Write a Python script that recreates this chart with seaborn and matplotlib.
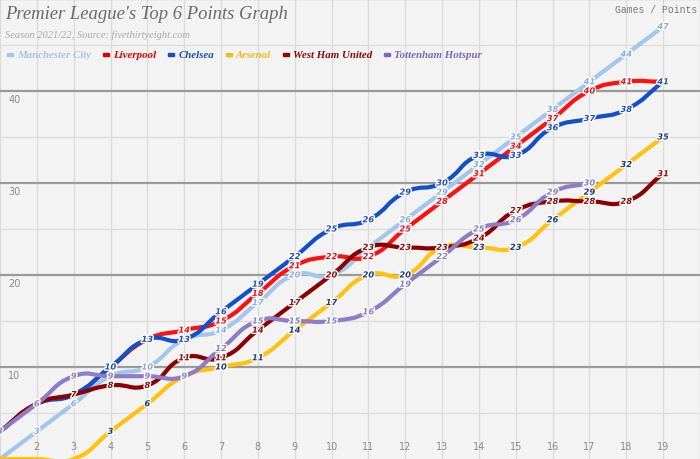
import numpy as np
import pandas as pd
import matplotlib
matplotlib.use("Agg")
import matplotlib.pyplot as plt
import seaborn as sns
from matplotlib.path import Path
from matplotlib.patches import PathPatch, Rectangle
import matplotlib.patheffects as pe
from matplotlib.transforms import ScaledTranslation

# ---------------- data ----------------
games = list(range(1, 20))
teams = ["Manchester City", "Liverpool", "Chelsea", "Arsenal",
         "West Ham United", "Tottenham Hotspur"]
man_city = [0, 3, 6, 9, 10, 13, 14, 17, 20, 20, 23, 26, 29, 32, 35, 38, 41, 44, 47]
liverpool = [3, 6, 7, 10, 13, 14, 15, 18, 21, 22, 22, 25, 28, 31, 34, 37, 40, 41, 41]
chelsea = [3, 6, 7, 10, 13, 13, 16, 19, 22, 25, 26, 29, 30, 33, 33, 36, 37, 38, 41]
arsenal = [0, 0, 0, 3, 6, 9, 10, 11, 14, 17, 20, 20, 23, 23, 23, 26, 29, 32, 35]
west_ham = [3, 6, 7, 8, 8, 11, 11, 14, 17, 20, 23, 23, 23, 24, 27, 28, 28, 28, 31]
tottenham = [3, 6, 9, 9, 9, 9, 12, 15, 15, 15, 16, 19, 22, 25, 26, 29, 30]
x_tick_labels = [str(g) for g in range(2, 20)]
y_tick_values = [10, 20, 30, 40]

series = [man_city, liverpool, chelsea, arsenal, west_ham, tottenham]
rows = []
for team, vals in zip(teams, series):
    for g, v in zip(games, vals):
        rows.append({"Team": team, "Game": g, "Points": v})
df = pd.DataFrame(rows)

line_colors = {"Manchester City": "#a3c6ea", "Liverpool": "#fd1010",
               "Chelsea": "#1050c8", "Arsenal": "#ffc20f",
               "West Ham United": "#8b0000", "Tottenham Hotspur": "#8f7cc6"}
label_colors = {"Manchester City": "#86acdc", "Liverpool": "#e0141c",
                "Chelsea": "#2350b0", "Arsenal": "#1d3a78",
                "West Ham United": "#8b0c0c", "Tottenham Hotspur": "#8a7cc6"}
legend_colors = {"Manchester City": "#a6c4e6", "Liverpool": "#e00000",
                 "Chelsea": "#1f4fae", "Arsenal": "#f3b91a",
                 "West Ham United": "#8b0a0a", "Tottenham Hotspur": "#7a68b8"}

# ---------------- style ----------------
sns.set_theme(style="whitegrid")
plt.rcParams["font.family"] = ["DejaVu Sans"]

fig = plt.figure(figsize=(7, 4.6), dpi=100)
fig.patch.set_facecolor("#f3f3f3")
ax = fig.add_axes([0, 0, 1, 1])
ax.set_facecolor("#f3f3f3")
ax.set_xlim(1, 20)
ax.set_ylim(0, 50)
for s in ax.spines.values():
    s.set_visible(False)

# grid
ax.set_xticks(list(range(1, 21)))
ax.set_xticklabels([""] + x_tick_labels + [""])
ax.set_yticks(y_tick_values + [50])
ax.set_yticklabels([str(v) for v in y_tick_values] + [""])
ax.set_yticks([5, 15, 25, 35, 45], minor=True)
ax.grid(False)
ax.xaxis.grid(True, which="major", color="#dcdcdc", lw=1.0)
ax.yaxis.grid(True, which="major", color="#9a9a9a", lw=1.6)
ax.yaxis.grid(True, which="minor", color="#dcdcdc", lw=1.0)
ax.set_axisbelow(True)
ax.tick_params(axis="both", which="both", length=0)
ax.tick_params(axis="x", pad=-13, labelsize=7, labelcolor="#8a8a8a")
ax.tick_params(axis="y", pad=-6, labelsize=7, labelcolor="#8a8a8a")
for lbl in ax.get_yticklabels():
    lbl.set_ha("left")
    lbl.set_va("top")
    lbl.set_transform(lbl.get_transform() + ScaledTranslation(0, -2 / 72, fig.dpi_scale_trans))
ax.set_xlabel("")
ax.set_ylabel("")


def smooth_path(xs, ys, smooth=0.5):
    pts = ax.transData.transform(np.column_stack([xs, ys]).astype(float))
    n = len(pts)
    cin, cout = [], []
    for i in range(n):
        p = pts[i]
        prev = pts[i - 1] if i > 0 else p
        nxt = pts[i + 1] if i < n - 1 else p
        v = nxt - prev
        d0 = np.hypot(*(p - prev))
        d1 = np.hypot(*(nxt - p))
        tot = d0 + d1
        r = d1 / tot if tot > 0 else 0.5
        cin.append(p - v * smooth * (1 - r))
        cout.append(p + v * smooth * r)
    verts = [pts[0]]
    codes = [Path.MOVETO]
    for i in range(n - 1):
        verts += [cout[i], cin[i + 1], pts[i + 1]]
        codes += [Path.CURVE4] * 3
    vd = ax.transData.inverted().transform(np.array(verts))
    return Path(vd, codes)


for team in teams:
    sub = df[df.Team == team]
    path = smooth_path(sub.Game.values, sub.Points.values)
    ax.add_patch(PathPatch(path, facecolor="none", edgecolor=line_colors[team],
                           lw=3.0, capstyle="round", joinstyle="round", zorder=3))

# point labels with overlap hiding (later series win)
fig.canvas.draw()
renderer = fig.canvas.get_renderer()
kept = []
for team in reversed(teams):
    sub = df[(df.Team == team) & (df.Points > 0)]
    for g, v in zip(sub.Game, sub.Points):
        t = ax.text(g, v, str(v), ha="center", va="center", fontsize=6,
                    fontweight="bold", fontstyle="italic", color=label_colors[team],
                    zorder=5, clip_on=True,
                    path_effects=[pe.withStroke(linewidth=2, foreground="white")])
        bb = t.get_window_extent(renderer)
        cx, cy = (bb.x0 + bb.x1) / 2, (bb.y0 + bb.y1) / 2
        w, h = bb.width, bb.height * 0.65
        box = (cx - w / 2, cy - h / 2, cx + w / 2, cy + h / 2)
        if any(not (box[2] <= k[0] or box[0] >= k[2] or box[3] <= k[1] or box[1] >= k[3]) for k in kept):
            t.remove()
        else:
            kept.append(box)

# title, subtitle
serif = ["Liberation Serif", "DejaVu Serif"]
fig.text(5 / 700, 1 - 6 / 460, "Premier League's Top 6 Points Graph", ha="left", va="top",
         fontsize=13.4, fontstyle="italic", family=serif, color="#6a6a6a")
fig.text(5 / 700, 1 - 30 / 460, "Season 2021/22, Source: fivethirtyeight.com", ha="left",
         va="top", fontsize=7.5, fontstyle="italic", family=serif, color="#a8a8a8")
fig.text(1 - 3 / 700, 1 - 5 / 460, "Games / Points", ha="right", va="top", fontsize=7,
         family=["Liberation Mono", "DejaVu Sans Mono"], color="#777777")

# legend
x = 7
ly = 1 - 55 / 460
for team in teams:
    fig.patches.append(Rectangle((x / 700, ly - 1.5 / 460), 6 / 700, 3 / 460,
                                 transform=fig.transFigure, color=legend_colors[team], zorder=6))
    t = fig.text((x + 10) / 700, ly, team, ha="left", va="center", fontsize=7.8,
                 fontstyle="italic", fontweight="bold", family=serif, color=legend_colors[team])
    bb = t.get_window_extent(renderer)
    x = x + 10 + bb.width + 12

fig.savefig("out.png", dpi=100, facecolor=fig.get_facecolor())
